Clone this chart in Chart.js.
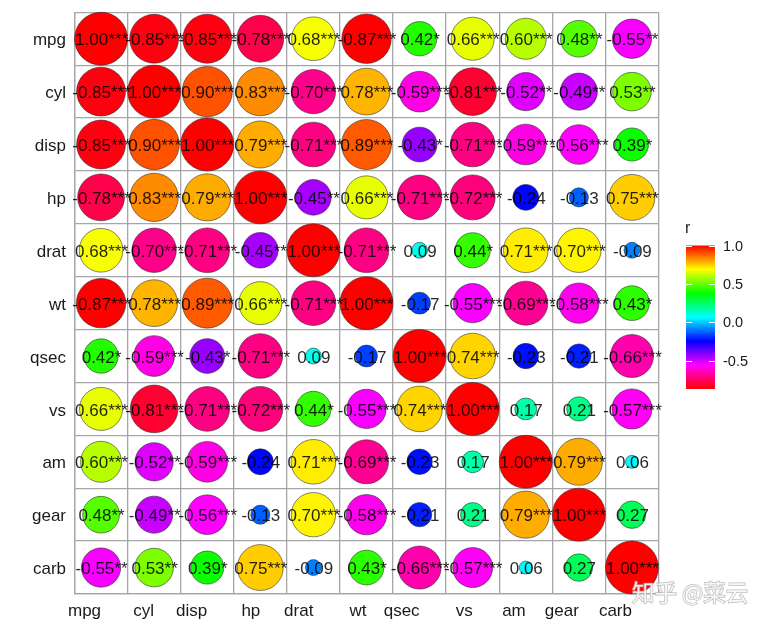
<!DOCTYPE html>
<html>
<head>
<meta charset="utf-8">
<style>
  html, body { margin: 0; padding: 0; background: #fff; }
  #wrap { width: 770px; height: 625px; }
</style>
<script src="https://cdn.jsdelivr.net/npm/chart.js@4"></script>
</head>
<body>
<div id="wrap"><canvas id="chart-corr" width="770" height="625"></canvas></div>
<script>
// variables of the correlation matrix
const variables = ["mpg", "cyl", "disp", "hp", "drat", "wt", "qsec", "vs", "am", "gear", "carb"];

// r values, one row per variable
const mpgRow  = [1.00, -0.85, -0.85, -0.78, 0.68, -0.87, 0.42, 0.66, 0.60, 0.48, -0.55];
const cylRow  = [-0.85, 1.00, 0.90, 0.83, -0.70, 0.78, -0.59, -0.81, -0.52, -0.49, 0.53];
const dispRow = [-0.85, 0.90, 1.00, 0.79, -0.71, 0.89, -0.43, -0.71, -0.59, -0.56, 0.39];
const hpRow   = [-0.78, 0.83, 0.79, 1.00, -0.45, 0.66, -0.71, -0.72, -0.24, -0.13, 0.75];
const dratRow = [0.68, -0.70, -0.71, -0.45, 1.00, -0.71, 0.09, 0.44, 0.71, 0.70, -0.09];
const wtRow   = [-0.87, 0.78, 0.89, 0.66, -0.71, 1.00, -0.17, -0.55, -0.69, -0.58, 0.43];
const qsecRow = [0.42, -0.59, -0.43, -0.71, 0.09, -0.17, 1.00, 0.74, -0.23, -0.21, -0.66];
const vsRow   = [0.66, -0.81, -0.71, -0.72, 0.44, -0.55, 0.74, 1.00, 0.17, 0.21, -0.57];
const amRow   = [0.60, -0.52, -0.59, -0.24, 0.71, -0.69, -0.23, 0.17, 1.00, 0.79, 0.06];
const gearRow = [0.48, -0.49, -0.56, -0.13, 0.70, -0.58, -0.21, 0.21, 0.79, 1.00, 0.27];
const carbRow = [-0.55, 0.53, 0.39, 0.75, -0.09, 0.43, -0.66, -0.57, 0.06, 0.27, 1.00];
const rRows = [mpgRow, cylRow, dispRow, hpRow, dratRow, wtRow, qsecRow, vsRow, amRow, gearRow, carbRow];

// significance stars, same order
const mpgStars  = ["***", "***", "***", "***", "***", "***", "*", "***", "***", "**", "**"];
const cylStars  = ["***", "***", "***", "***", "***", "***", "***", "***", "**", "**", "**"];
const dispStars = ["***", "***", "***", "***", "***", "***", "*", "***", "***", "***", "*"];
const hpStars   = ["***", "***", "***", "***", "**", "***", "***", "***", "", "", "***"];
const dratStars = ["***", "***", "***", "**", "***", "***", "", "*", "***", "***", ""];
const wtStars   = ["***", "***", "***", "***", "***", "***", "", "***", "***", "***", "*"];
const qsecStars = ["*", "***", "*", "***", "", "", "***", "***", "", "", "***"];
const vsStars   = ["***", "***", "***", "***", "*", "***", "***", "***", "", "", "***"];
const amStars   = ["***", "**", "***", "", "***", "***", "", "", "***", "***", ""];
const gearStars = ["**", "**", "***", "", "***", "***", "", "", "***", "***", ""];
const carbStars = ["**", "**", "*", "***", "", "*", "***", "***", "", "", "***"];
const starRows = [mpgStars, cylStars, dispStars, hpStars, dratStars, wtStars, qsecStars, vsStars, amStars, gearStars, carbStars];

// colour bar
const legendTitle = "r";
const legendTicks = [1.0, 0.5, 0.0, -0.5];
const rMin = -0.87;
const rMax = 1.0;

const watermark = "知乎 @菜云";

const fontName = "'Liberation Sans', Arial, sans-serif";
const maxRadius = 26.5;

// rainbow scale: red at rMax, all the way round to red again at rMin
function rColor(r) {
  const hue = (rMax - r) / (rMax - rMin) * 360;
  return "hsl(" + hue + ", 100%, 50%)";
}

const points = [];
rRows.forEach(function (row, i) {
  row.forEach(function (r, j) {
    points.push({ x: variables[j], y: variables[i], v: r, stars: starRows[i][j] });
  });
});

// text inside the cells
const cellLabels = {
  id: "cellLabels",
  afterDatasetsDraw(chart) {
    const ctx = chart.ctx;
    const elements = chart.getDatasetMeta(0).data;
    ctx.save();
    ctx.font = "17px " + fontName;
    ctx.textAlign = "center";
    ctx.textBaseline = "middle";
    ctx.fillStyle = "rgba(0,0,0,0.85)";
    elements.forEach(function (el, i) {
      const p = points[i];
      ctx.fillText(p.v.toFixed(2) + p.stars, el.x + 0.5, el.y + 2);
    });
    ctx.restore();
  }
};

// y labels sit a bit below the row centre, the scale can't do that by itself
const rowLabels = {
  id: "rowLabels",
  afterDraw(chart) {
    const ctx = chart.ctx;
    const yScale = chart.scales.y;
    ctx.save();
    ctx.font = "17px " + fontName;
    ctx.textAlign = "right";
    ctx.textBaseline = "middle";
    ctx.fillStyle = "#1a1a1a";
    variables.forEach(function (name, i) {
      ctx.fillText(name, 66, yScale.getPixelForValue(i) + 2);
    });
    ctx.restore();
  }
};

// colour bar on the right + watermark
const colorBar = {
  id: "colorBar",
  afterDraw(chart) {
    const ctx = chart.ctx;
    const left = 686, width = 29, top = 245.5, height = 143.5;
    const yOf = function (r) { return top + (rMax - r) / (rMax - rMin) * height; };

    const grad = ctx.createLinearGradient(0, top, 0, top + height);
    for (let s = 0; s <= 12; s++) {
      grad.addColorStop(s / 12, rColor(rMax - s / 12 * (rMax - rMin)));
    }
    ctx.save();
    ctx.fillStyle = grad;
    ctx.fillRect(left, top, width, height);

    ctx.strokeStyle = "#fff";
    ctx.lineWidth = 1;
    ctx.font = "14.5px " + fontName;
    ctx.textBaseline = "middle";
    ctx.textAlign = "left";
    legendTicks.forEach(function (t) {
      const y = Math.round(yOf(t)) + 0.5;
      ctx.beginPath();
      ctx.moveTo(left, y); ctx.lineTo(left + 6, y);
      ctx.moveTo(left + width - 6, y); ctx.lineTo(left + width, y);
      ctx.stroke();
      ctx.fillStyle = "#1a1a1a";
      ctx.fillText(t.toFixed(1), 723, y);
    });

    ctx.font = "16px " + fontName;
    ctx.fillStyle = "#1a1a1a";
    ctx.fillText(legendTitle, 685, 229);

    // watermark
    ctx.font = "22.5px 'Noto Sans CJK SC', sans-serif";
    ctx.lineWidth = 1.5;
    ctx.strokeStyle = "rgba(170,170,170,0.75)";
    ctx.strokeText(watermark, 632, 592);
    ctx.fillStyle = "rgba(255,255,255,0.85)";
    ctx.fillText(watermark, 632, 592);
    ctx.restore();
  }
};

new Chart(document.getElementById("chart-corr").getContext("2d"), {
  type: "bubble",
  data: {
    datasets: [{
      data: points,
      radius: ctx => maxRadius * Math.sqrt(Math.abs(ctx.raw.v)),
      backgroundColor: ctx => rColor(ctx.raw.v),
      borderColor: "rgba(40,40,40,0.8)",
      borderWidth: 0.7,
      clip: false
    }]
  },
  options: {
    responsive: false,
    animation: false,
    layout: { autoPadding: false, padding: { top: 12.3, right: 111.5, left: 0, bottom: 0 } },
    plugins: {
      legend: { display: false },
      tooltip: { enabled: false }
    },
    scales: {
      x: {
        type: "category",
        labels: variables,
        offset: true,
        afterFit: scale => { scale.height = 31; scale.paddingLeft = 0; scale.paddingRight = 0; },
        grid: { offset: true, color: "#a6a6a6", lineWidth: 1.3, drawTicks: false },
        border: { color: "#a6a6a6", width: 1.3 },
        ticks: {
          autoSkip: false,
          maxRotation: 0,
          align: "end",
          padding: 7,
          color: "#1a1a1a",
          font: { family: fontName, size: 17 }
        }
      },
      y: {
        type: "category",
        labels: variables,
        offset: true,
        afterFit: scale => { scale.width = 74.5; scale.paddingTop = 0; scale.paddingBottom = 0; },
        grid: { offset: true, color: "#a6a6a6", lineWidth: 1.3, drawTicks: false },
        border: { color: "#a6a6a6", width: 1.3 },
        ticks: { display: false }
      }
    }
  },
  plugins: [cellLabels, rowLabels, colorBar]
});
</script>
</body>
</html>
